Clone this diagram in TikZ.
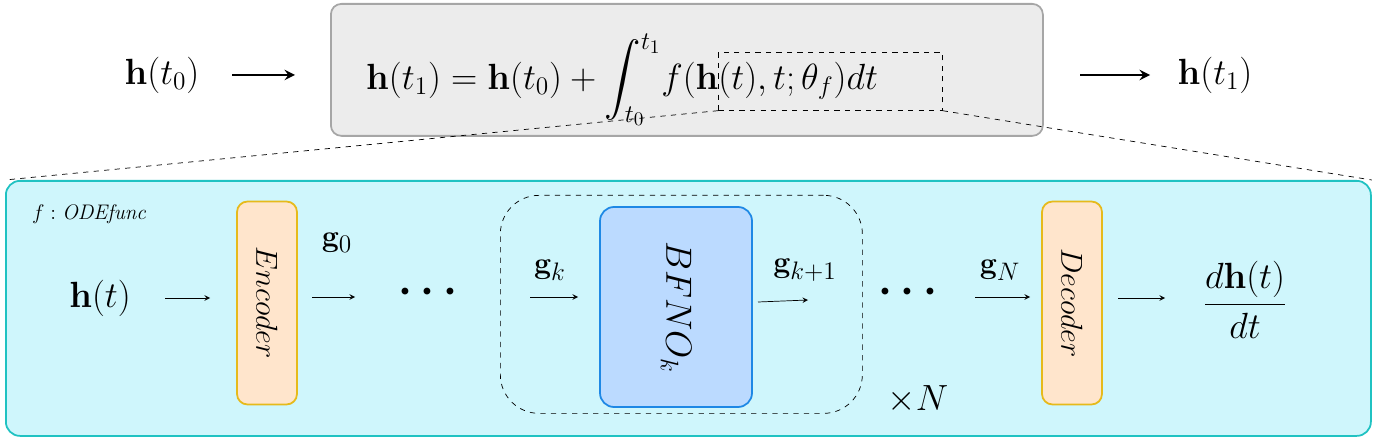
\documentclass[tikz,border=0pt]{standalone}
\usepackage{amsmath}
\begin{document}
\begin{tikzpicture}[x=0.02cm,y=-0.02cm,
  big/.style={font=\fontsize{22}{26}\selectfont},
  mid/.style={font=\fontsize{19}{23}\selectfont},
  arr/.style={-stealth},
  bigarr/.style={-stealth,line width=1.6pt},
  orange box/.style={draw=yellow!60!orange!90!black,fill=orange!20,rounded corners=6pt,line width=1pt},
  dashbox/.style={draw,dashed,thin}]
\definecolor{cfill}{HTML}{CFF6FC}
\definecolor{cline}{HTML}{20C2C2}
\definecolor{bfill}{HTML}{BBDAFF}
\definecolor{bline}{HTML}{1E88E5}
\useasboundingbox (0,0) rectangle (1374,439);
% top
\node[draw=gray!70,fill=gray!15,rounded corners=6pt,line width=1pt,minimum width=712*0.02cm,minimum height=132*0.02cm,anchor=north west] (top) at (330,3) {};
\node[big] (h0) at (162,75) {$\mathbf{h}(t_0)$};
\node[big] (h1) at (1215,75) {$\mathbf{h}(t_1)$};
\node[font=\fontsize{22.5}{27}\selectfont,anchor=west] (eq) at (360,80) {$\mathbf{h}(t_1)=\mathbf{h}(t_0)+\displaystyle\int_{t_0}^{t_1}\! f(\mathbf{h}(t),t;\theta_f)dt$};
\draw[bigarr] (232,75) coordinate (a1) -- (295,75) coordinate (a2);
\draw[bigarr] (1080,75) coordinate (a3) -- (1150,75) coordinate (a4);
\node[dashbox,minimum width=224*0.02cm,minimum height=58*0.02cm,anchor=north west] (fbox) at (718,52) {};
% bottom
\node[draw=cline,fill=cfill,rounded corners=8pt,line width=1pt,minimum width=1365*0.02cm,minimum height=255*0.02cm,anchor=north west] (bot) at (5,180) {};
\draw[dashed,thin] (fbox.south west) -- (bot.north west);
\draw[dashed,thin] (fbox.south east) -- (bot.north east);
\node[anchor=west,font=\large] (lab) at (26,214) {$f: \mathit{ODEfunc}$};
\node[draw,dashed,thin,rounded corners=22pt,minimum width=362*0.02cm,minimum height=218*0.02cm,anchor=north west] (rep) at (500,195) {};
\node[orange box,minimum width=60*0.02cm,minimum height=203*0.02cm] (enc) at (267,303) {};
\node[rotate=-90,mid] at (enc) {$Encoder$};
\node[orange box,minimum width=60*0.02cm,minimum height=203*0.02cm] (dec) at (1072,303) {};
\node[rotate=-90,mid] at (dec) {$Decoder$};
\node[draw=bline,fill=bfill,rounded corners=8pt,line width=1pt,minimum width=152*0.02cm,minimum height=200*0.02cm] (bf) at (676,307) {};
\node[rotate=-90,big] at (bf) {$BFNO_k$};
\node[big] (ht) at (100,298) {$\mathbf{h}(t)$};
\node[big] (dh) at (1245,300) {$\dfrac{d\mathbf{h}(t)}{dt}$};
\draw[arr] (165,298) -- (210,298);
\draw[arr] (312,297) -- (355,297);
\node[mid] at (337,243) {$\mathbf{g}_0$};
\node[font=\fontsize{28}{30}\selectfont] (d1) at (432,292) {$\boldsymbol{\cdots}$};
\node[font=\fontsize{28}{30}\selectfont] (d2) at (912,292) {$\boldsymbol{\cdots}$};
\draw[arr] (530,297) -- (578,297);
\node[mid] at (550,270) {$\mathbf{g}_k$};
\draw[arr] (758,302) -- (808,300);
\node[mid] at (805,270) {$\mathbf{g}_{k+1}$};
\draw[arr] (975,297) -- (1030,297);
\node[mid] at (1000,270) {$\mathbf{g}_N$};
\draw[arr] (1118,298) -- (1165,298);
\node[big] (xn) at (918,400) {$\times N$};
\end{tikzpicture}
\end{document}
